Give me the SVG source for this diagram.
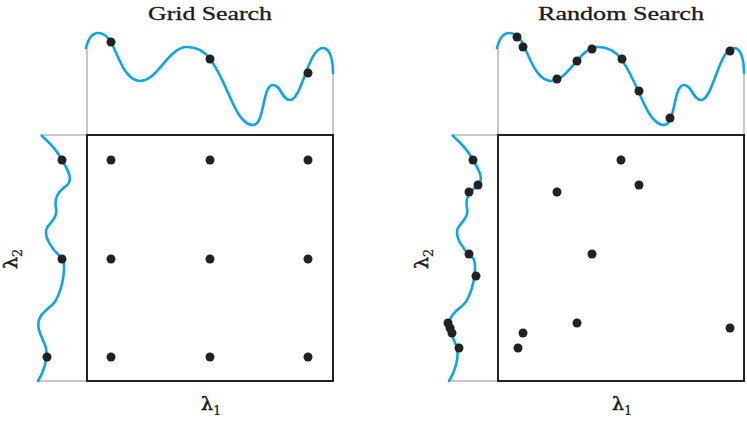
<svg xmlns="http://www.w3.org/2000/svg" width="747" height="421" viewBox="0 0 747 421">
<style>
.title{font-family:"Liberation Serif","DejaVu Serif",serif;font-size:19px;fill:#1a1a1a;stroke:#1a1a1a;stroke-width:0.3}
.lab{font-family:"DejaVu Serif","Liberation Serif",serif;font-size:19px;fill:#1a1a1a;stroke:#1a1a1a;stroke-width:0.6}
.sub{font-size:13px;stroke-width:0.2}
.curve{fill:none;stroke:#0aa6e6;stroke-width:2.6;stroke-linecap:round}
.guide{fill:none;stroke:#c8c8c8;stroke-width:2}
.box{fill:none;stroke:#222;stroke-width:2}
.dot{fill:#222}
</style>
<defs>
<path id="topc" d="M86,48 C88,40 92,33 98,33 C104,33 108,37 111,42 C118,55 125,81 140,81 C158,81 168,47 187,47 C198,47 205,52 210,59 C228,82 235,125 253,125 C265,125 262,85 273,85 C281,85 282,100 290,100 C302,100 308,48 323,48 C330,48 333,60 333,73"/>
<path id="leftc" d="M42,136 C50,143 58,152 62,160 C68,170 74,180 66,186 C58,192 54,198 56,208 C58,218 50,222 47,228 C43,236 52,250 62,258 C66,264 64,285 56,300 C52,308 42,310 39,320 C36,330 44,340 46,348 C48,358 44,372 38,381"/>
</defs>
<g id="grid-panel">
<text class="title" x="210" y="20" text-anchor="middle" textLength="124" lengthAdjust="spacingAndGlyphs">Grid Search</text>
<path class="guide" d="M87,48 V135 M333,73 V135 M40,135 H87 M38,381 H87"/>
<use href="#topc" class="curve"/>
<use href="#leftc" class="curve"/>
<rect class="box" x="87" y="135" width="246" height="246"/>
<g class="dot">
<circle cx="111" cy="42" r="4.5"/><circle cx="210" cy="59" r="4.5"/><circle cx="308" cy="73" r="4.5"/>
<circle cx="62" cy="160" r="4.5"/><circle cx="62" cy="259" r="4.5"/><circle cx="47" cy="357" r="4.5"/>
<circle cx="111" cy="160" r="4.5"/><circle cx="210" cy="160" r="4.5"/><circle cx="308" cy="160" r="4.5"/>
<circle cx="111" cy="259" r="4.5"/><circle cx="210" cy="259" r="4.5"/><circle cx="308" cy="259" r="4.5"/>
<circle cx="111" cy="357" r="4.5"/><circle cx="210" cy="357" r="4.5"/><circle cx="308" cy="357" r="4.5"/>
</g>
<text class="lab" x="201" y="410">λ<tspan class="sub" dy="5">1</tspan></text>
<text class="lab" transform="translate(17,269) rotate(-90)">λ<tspan class="sub" dy="5">2</tspan></text>
</g>
<g id="random-panel">
<text class="title" x="621" y="20" text-anchor="middle" textLength="166" lengthAdjust="spacingAndGlyphs">Random Search</text>
<path class="guide" d="M498,48 V135 M744,72 V135 M451,135 H498 M449,381 H498"/>
<use href="#topc" class="curve" transform="translate(411,0)"/>
<use href="#leftc" class="curve" transform="translate(411,0)"/>
<rect class="box" x="498" y="135" width="246" height="246"/>
<g class="dot">
<circle cx="517" cy="37" r="4.5"/><circle cx="523" cy="47" r="4.5"/><circle cx="557" cy="79" r="4.5"/>
<circle cx="577" cy="61" r="4.5"/><circle cx="592" cy="49" r="4.5"/><circle cx="622" cy="59" r="4.5"/>
<circle cx="639" cy="91" r="4.5"/><circle cx="670" cy="118" r="4.5"/><circle cx="730" cy="51" r="4.5"/>
<circle cx="473" cy="160" r="4.5"/><circle cx="478" cy="185" r="4.5"/><circle cx="469" cy="192" r="4.5"/>
<circle cx="469" cy="254" r="4.5"/><circle cx="476" cy="276" r="4.5"/><circle cx="448" cy="323" r="4.5"/>
<circle cx="450" cy="328" r="4.5"/><circle cx="452" cy="333" r="4.5"/><circle cx="459" cy="348" r="4.5"/>
<circle cx="621" cy="160" r="4.5"/><circle cx="639" cy="185" r="4.5"/><circle cx="557" cy="192" r="4.5"/>
<circle cx="592" cy="254" r="4.5"/><circle cx="577" cy="323" r="4.5"/><circle cx="523" cy="333" r="4.5"/>
<circle cx="518" cy="348" r="4.5"/><circle cx="730" cy="328" r="4.5"/>
</g>
<text class="lab" x="612" y="410">λ<tspan class="sub" dy="5">1</tspan></text>
<text class="lab" transform="translate(428,269) rotate(-90)">λ<tspan class="sub" dy="5">2</tspan></text>
</g>
</svg>
